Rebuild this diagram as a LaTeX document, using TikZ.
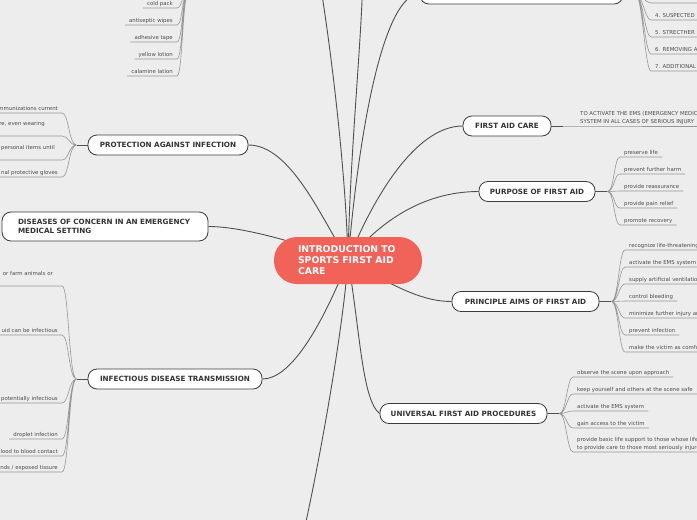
\documentclass[tikz,border=0pt]{standalone}
\usepackage{fontspec}
\setmainfont{DejaVu Sans}
\usetikzlibrary{positioning,backgrounds}
\definecolor{canvas}{RGB}{237,237,237}
\definecolor{rootred}{RGB}{241,98,88}
\definecolor{edge}{RGB}{80,80,80}
\definecolor{twig}{RGB}{150,150,150}
\definecolor{rim}{RGB}{60,60,60}

\begin{document}
\begin{tikzpicture}[x=1pt,y=-1pt]
    \useasboundingbox (0,0) rectangle (697,520);
    \clip (0,0) rectangle (697,520);
    \begin{scope}[node distance=17pt, inner sep=2pt,
    		root/.style={rectangle, rounded corners=23pt, fill=rootred, text=white, font=\fontsize{9.3}{11}\selectfont\bfseries, align=left, text width=100pt, inner xsep=24pt, minimum height=47pt},
    		branch/.style={rectangle, rounded corners=9pt, draw=rim, line width=0.8pt, fill=white, text=black!80, font=\fontsize{7.2}{9}\selectfont\bfseries, minimum height=20pt, inner xsep=4pt},
    		leaf/.style={font=\fontsize{5.4}{8}\selectfont, text=black!70, inner xsep=4pt, inner ysep=1.5pt, text height=4pt, text depth=1pt},
    		rleaf/.style={leaf, anchor=south west},
    		lleaf/.style={leaf, anchor=south east},
    		link/.style={draw=edge, line width=0.9pt},
    		twigline/.style={draw=twig, line width=0.6pt}]
    
    \node[root] (intro) at (348,260.5) {INTRODUCTION TO\\SPORTS FIRST AID\\CARE};
    
    \node[branch, minimum width=160pt] (protect) at (168,145) {PROTECTION AGAINST INFECTION};
    \node[branch, minimum width=206pt, minimum height=29pt, text width=174pt, align=left] (diseases) at (105,226.5)
    {DISEASES OF CONCERN IN AN EMERGENCY\\MEDICAL SETTING};
    \node[branch, minimum width=174pt] (infect) at (175,379) {INFECTIOUS DISEASE TRANSMISSION};
    \node[branch, minimum width=203pt] (topic) at (521.5,-6) {};
    \node[branch, minimum width=88pt] (care) at (507,126) {FIRST AID CARE};
    \node[branch, minimum width=116pt] (purpose) at (537,191.5) {PURPOSE OF FIRST AID};
    \node[branch, minimum width=147pt] (aims) at (525.5,301.5) {PRINCIPLE AIMS OF FIRST AID};
    \node[branch, minimum width=167pt] (universal) at (463.5,413.5) {UNIVERSAL FIRST AID PROCEDURES};
    
    \coordinate (kitstem) at (318,-30);
    \coordinate (midstem) at (363,-30);
    \coordinate (footstem) at (302,540);
    \coordinate (kitj) at (190,-12);
    \coordinate (aidthree) at (651,3);
    \coordinate (protectj) at ([xshift=-11pt]protect.west);
    \coordinate (infectj) at ([xshift=-11pt]infect.west);
    \coordinate (topicj) at ([xshift=12pt]topic.east);
    \coordinate (carej) at ([xshift=12pt]care.east);
    \coordinate (purposej) at ([xshift=12pt]purpose.east);
    \coordinate (aimsj) at ([xshift=12pt]aims.east);
    \coordinate (universalj) at ([xshift=12pt]universal.east);
    
    \node[lleaf] (k1) at (177,8) {cold pack};
    \node[lleaf, below=of k1.south east, anchor=south east] (k2) {antiseptic wipes};
    \node[lleaf, below=of k2.south east, anchor=south east] (k3) {adhesive tape};
    \node[lleaf, below=of k3.south east, anchor=south east] (k4) {yellow lotion};
    \node[lleaf, below=of k4.south east, anchor=south east] (k5) {calamine lation};
    
    \node[lleaf] (pa1) at (62,113) {mmunizations current};
    \node[lleaf, text depth=8.5pt] (pa2) at (62,136) {re, even wearing\hspace*{13pt}};
    \node[lleaf, text depth=8.5pt] (pa3) at (62,160) {personal items until\hspace*{3pt}};
    \node[lleaf] (pa4) at (62,177) {nal protective gloves};
    
    \node[lleaf, text depth=8.5pt] (ia1) at (62,286) {or farm animals or\hspace*{5pt}};
    \node[lleaf] (ia2) at (62,335) {uid can be infectious};
    \node[lleaf] (ia3) at (62,403) {potentially infectious};
    \node[lleaf] (ia4) at (62,439) {droplet infection};
    \node[lleaf, below=of ia4.south east, anchor=south east] (ia5) {lood to blood contact};
    \node[lleaf, below=16pt of ia5.south east, anchor=south east] (ia6) {nds / exposed tissure};
    
    \node[rleaf] (t4) at (651,20) {4. SUSPECTED};
    \node[rleaf, below=of t4.south west, anchor=south west] (t5) {5. STRECTHER};
    \node[rleaf, below=of t5.south west, anchor=south west] (t6) {6. REMOVING A};
    \node[rleaf, below=of t6.south west, anchor=south west] (t7) {7. ADDITIONAL};
    
    \node[rleaf, text height=, text depth=, align=left] (c1) at (576,126)
    {TO ACTIVATE THE EMS (EMERGENCY MEDICAL\\SYSTEM IN ALL CASES OF SERIOUS INJURY};
    
    \node[rleaf] (pu1) at (620,157) {preserve life};
    \node[rleaf, below=of pu1.south west, anchor=south west] (pu2) {prevent further harm};
    \node[rleaf, below=of pu2.south west, anchor=south west] (pu3) {provide reassurance};
    \node[rleaf, below=of pu3.south west, anchor=south west] (pu4) {provide pain relief};
    \node[rleaf, below=of pu4.south west, anchor=south west] (pu5) {promote recovery};
    
    \node[rleaf] (am1) at (625,250) {recognize life-threatening};
    \node[rleaf, below=of am1.south west, anchor=south west] (am2) {activate the EMS system};
    \node[rleaf, below=of am2.south west, anchor=south west] (am3) {supply artificial ventilation};
    \node[rleaf, below=of am3.south west, anchor=south west] (am4) {control bleeding};
    \node[rleaf, below=of am4.south west, anchor=south west] (am5) {minimize further injury and};
    \node[rleaf, below=of am5.south west, anchor=south west] (am6) {prevent infection};
    \node[rleaf, below=of am6.south west, anchor=south west] (am7) {make the victim as comfortable};
    
    \node[rleaf] (u1) at (573,377) {observe the scene upon approach};
    \node[rleaf, below=of u1.south west, anchor=south west] (u2) {keep yourself and others at the scene safe};
    \node[rleaf, below=of u2.south west, anchor=south west] (u3) {activate the EMS system};
    \node[rleaf, below=of u3.south west, anchor=south west] (u4) {gain access to the victim};
    \node[rleaf, text height=, text depth=, align=left] (u5) at (573,452)
    {provide basic life support to those whose life\\to provide care to those most seriously injured};
    
    \begin{pgfonlayer}{background}
    \clip (0,0) rectangle (697,520);
    \fill[canvas] (0,0) rectangle (697,520);
    
    \draw[link]
    (intro.center) .. controls (346,170) and (330,40) .. (kitstem)
    (intro.center) .. controls (350,150) and (362,40) .. (midstem)
    (intro.center) .. controls (360,120) and (385,-6) .. (topic.west)
    (intro.center) .. controls (372,200) and (415,126) .. (care.west)
    (intro.center) .. controls (385,215) and (430,191.5) .. (purpose.west)
    (intro.center) .. controls (400,290) and (425,301.5) .. (aims.west)
    (intro.center) .. controls (360,330) and (362,400) .. (universal.west)
    (intro.center) .. controls (343,330) and (320,460) .. (footstem)
    (intro.center) .. controls (320,330) and (290,379) .. (infect.east)
    (intro.center) .. controls (290,240) and (240,226.5) .. (diseases.east)
    (intro.center) .. controls (320,215) and (290,145) .. (protect.east);
    
    \draw[link]
    (protect.west) -- (protectj)
    (infect.west) -- (infectj)
    (topic.east) -- (topicj)
    (care.east) -- (carej)
    (purpose.east) -- (purposej)
    (aims.east) -- (aimsj)
    (universal.east) -- (universalj);
    
    \draw[twigline]
    (kitj) .. controls +(-8,0) and +(6,0) .. (k1.south east) -- (k1.south west)
    (kitj) .. controls +(-8,0) and +(6,0) .. (k2.south east) -- (k2.south west)
    (kitj) .. controls +(-8,0) and +(6,0) .. (k3.south east) -- (k3.south west)
    (kitj) .. controls +(-8,0) and +(6,0) .. (k4.south east) -- (k4.south west)
    (kitj) .. controls +(-8,0) and +(6,0) .. (k5.south east) -- (k5.south west);
    
    \draw[twigline]
    (protectj) .. controls +(-8,0) and +(7,0) .. (pa1.south east) -- (pa1.south west)
    (protectj) .. controls +(-8,0) and +(7,0) .. (pa2.south east) -- (pa2.south west)
    (protectj) .. controls +(-8,0) and +(7,0) .. (pa3.south east) -- (pa3.south west)
    (protectj) .. controls +(-8,0) and +(7,0) .. (pa4.south east) -- (pa4.south west);
    
    \draw[twigline]
    (infectj) .. controls +(-8,0) and +(7,0) .. (ia1.south east) -- (ia1.south west)
    (infectj) .. controls +(-8,0) and +(7,0) .. (ia2.south east) -- (ia2.south west)
    (infectj) .. controls +(-8,0) and +(7,0) .. (ia3.south east) -- (ia3.south west)
    (infectj) .. controls +(-8,0) and +(7,0) .. (ia4.south east) -- (ia4.south west)
    (infectj) .. controls +(-8,0) and +(7,0) .. (ia5.south east) -- (ia5.south west)
    (infectj) .. controls +(-8,0) and +(7,0) .. (ia6.south east) -- (ia6.south west);
    
    \draw[twigline]
    (topicj) .. controls +(7,0) and +(-6,0) .. (aidthree) -- ++(60,0)
    (topicj) .. controls +(7,0) and +(-6,0) .. (t4.south west) -- (t4.south east)
    (topicj) .. controls +(7,0) and +(-6,0) .. (t5.south west) -- (t5.south east)
    (topicj) .. controls +(7,0) and +(-6,0) .. (t6.south west) -- (t6.south east)
    (topicj) .. controls +(7,0) and +(-6,0) .. (t7.south west) -- (t7.south east);
    
    \draw[twigline] (carej) -- (c1.south west) -- (c1.south east);
    
    \draw[twigline]
    (purposej) .. controls +(7,0) and +(-6,0) .. (pu1.south west) -- (pu1.south east)
    (purposej) .. controls +(7,0) and +(-6,0) .. (pu2.south west) -- (pu2.south east)
    (purposej) .. controls +(7,0) and +(-6,0) .. (pu3.south west) -- (pu3.south east)
    (purposej) .. controls +(7,0) and +(-6,0) .. (pu4.south west) -- (pu4.south east)
    (purposej) .. controls +(7,0) and +(-6,0) .. (pu5.south west) -- (pu5.south east);
    
    \draw[twigline]
    (aimsj) .. controls +(7,0) and +(-6,0) .. (am1.south west) -- (am1.south east)
    (aimsj) .. controls +(7,0) and +(-6,0) .. (am2.south west) -- (am2.south east)
    (aimsj) .. controls +(7,0) and +(-6,0) .. (am3.south west) -- (am3.south east)
    (aimsj) .. controls +(7,0) and +(-6,0) .. (am4.south west) -- (am4.south east)
    (aimsj) .. controls +(7,0) and +(-6,0) .. (am5.south west) -- (am5.south east)
    (aimsj) .. controls +(7,0) and +(-6,0) .. (am6.south west) -- (am6.south east)
    (aimsj) .. controls +(7,0) and +(-6,0) .. (am7.south west) -- (am7.south east);
    
    \draw[twigline]
    (universalj) .. controls +(7,0) and +(-6,0) .. (u1.south west) -- (u1.south east)
    (universalj) .. controls +(7,0) and +(-6,0) .. (u2.south west) -- (u2.south east)
    (universalj) .. controls +(7,0) and +(-6,0) .. (u3.south west) -- (u3.south east)
    (universalj) .. controls +(7,0) and +(-6,0) .. (u4.south west) -- (u4.south east)
    (universalj) .. controls +(7,0) and +(-6,0) .. (u5.south west) -- (u5.south east);
    \end{pgfonlayer}
    
    \end{scope}
\end{tikzpicture}
\end{document}
